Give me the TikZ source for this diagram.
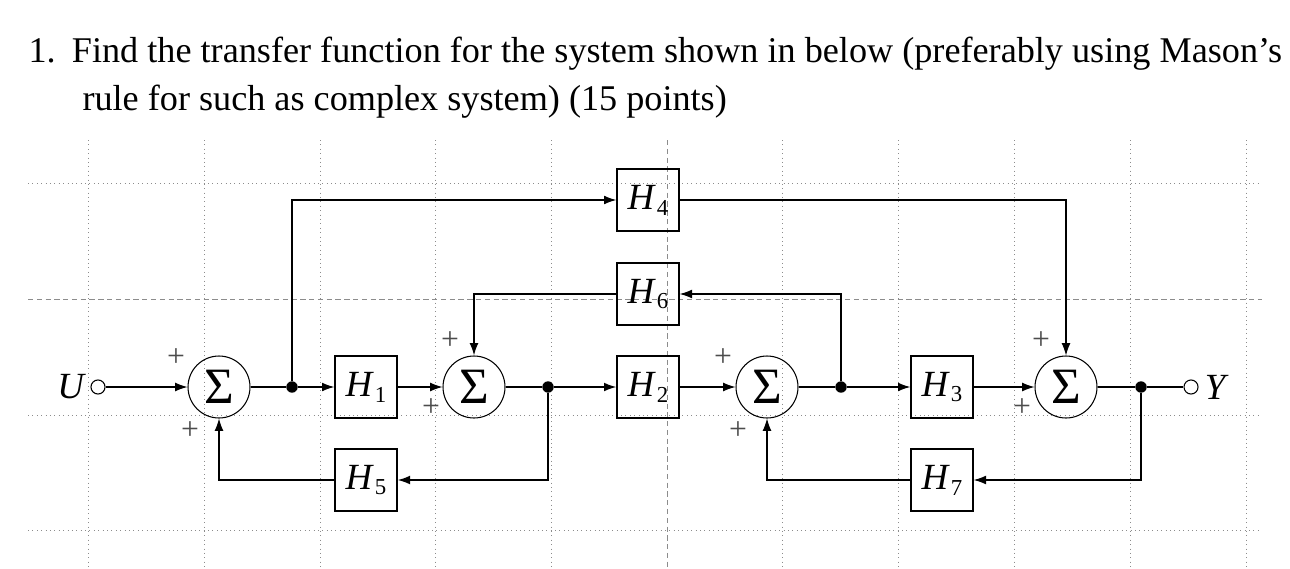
\documentclass[tikz,border=0pt]{standalone}
\usepackage{fontspec}
\setmainfont{Liberation Serif}
\usetikzlibrary{arrows.meta}
\newcommand{\blkname}[2]{\textit{#1}\kern0.5pt\raisebox{-0.35ex}{\fontsize{13}{14}\selectfont #2}}
\begin{document}
\begin{tikzpicture}[x=0.02cm, y=-0.02cm, -{Latex[length=7pt,width=5pt]}, semithick,
  blk/.style = {draw, thick, minimum size=1.24cm, inner sep=0pt, font=\fontsize{21}{24}\selectfont},
  sum/.style = {draw, circle, minimum size=1.24cm, inner sep=0pt, font=\fontsize{29}{30}\selectfont},
  dot/.style = {circle, fill, minimum size=6.5pt, inner sep=0pt},
  port/.style = {circle, draw, minimum size=8pt, inner sep=0pt},
  sgn/.style = {font=\fontsize{18}{18}\selectfont, text=black!70},
  grd/.style = {black!45, dotted, line width=0.5pt}]
    \useasboundingbox (0,0) rectangle (1290,568);
    % background grid
    \foreach \gx in {88,204,320,435,551,782,898,1014,1130,1246}
        \draw[grd, -] (\gx,140) -- (\gx,568);
    \draw[black!45, densely dashed, line width=0.4pt, -] (667,140) -- (667,568);
    \foreach \gy in {183,415,530}
        \draw[grd, -] (28,\gy) -- (1262,\gy);
    \draw[black!45, densely dashed, line width=0.4pt, -] (28,299) -- (1262,299);
    % title
    \node[anchor=base west, inner sep=0pt, font=\fontsize{20.6}{24}\selectfont] (t1) at (28,62)
        {1.\hspace{0.45em}Find the transfer function for the system shown in below (preferably using Mason’s};
    \node[anchor=base west, inner sep=0pt, font=\fontsize{20.6}{24}\selectfont] (t2) at (82,110)
        {rule for such as complex system) (15 points)};
    % blocks
    \node[port] (u) at (98,387) {};
    \node[anchor=east, font=\fontsize{21}{24}\selectfont\itshape] (ul) at (u.west) {U};
    \node[sum] (s1) at (219,387) {Σ};
    \node[dot] (d1) at (292,387) {};
    \node[blk] (h1) at (366,387) {\blkname{H}{1}};
    \node[sum] (s2) at (474,387) {Σ};
    \node[dot] (d2) at (548,387) {};
    \node[blk] (h2) at (648,387) {\blkname{H}{2}};
    \node[blk] (h4) at (648,200) {\blkname{H}{4}};
    \node[blk] (h6) at (648,294) {\blkname{H}{6}};
    \node[blk] (h5) at (366,480) {\blkname{H}{5}};
    \node[sum] (s3) at (767,387) {Σ};
    \node[dot] (d3) at (841,387) {};
    \node[blk] (h3) at (942,387) {\blkname{H}{3}};
    \node[sum] (s4) at (1066,387) {Σ};
    \node[dot] (d4) at (1141,387) {};
    \node[blk] (h7) at (942,480) {\blkname{H}{7}};
    \node[port] (y) at (1191,387) {};
    \node[anchor=west, font=\fontsize{21}{24}\selectfont\itshape] (yl) at (y.east) {Y};
    % signs
    \node[sgn] (p1) at (176,358) {+};
    \node[sgn] (p2) at (190,431) {+};
    \node[sgn] (p3) at (450,341) {+};
    \node[sgn] (p4) at (431,408) {+};
    \node[sgn] (p5) at (723,358) {+};
    \node[sgn] (p6) at (738,431) {+};
    \node[sgn] (p7) at (1041,341) {+};
    \node[sgn] (p8) at (1022,408) {+};
    % connections
    \draw (u) -- (s1);
    \draw[-] (s1) -- (d1);
    \draw (d1) -- (h1);
    \draw (d1) |- (h4);
    \draw (h1) -- (s2);
    \draw[-, thick] (s2) -- (d2);
    \draw[thick] (d2) -- (h2);
    \draw[thick] (d2) |- (h5);
    \draw (h5) -| (s1);
    \draw[thick] (h6) -| (s2);
    \draw (h2) -- (s3);
    \draw[-] (s3) -- (d3);
    \draw (d3) -- (h3);
    \draw (d3) |- (h6);
    \draw (h3) -- (s4);
    \draw (h4) -| (s4);
    \draw[-] (s4) -- (d4);
    \draw[-] (d4) -- (y);
    \draw (d4) |- (h7);
    \draw (h7) -| (s3);
\end{tikzpicture}
\end{document}
